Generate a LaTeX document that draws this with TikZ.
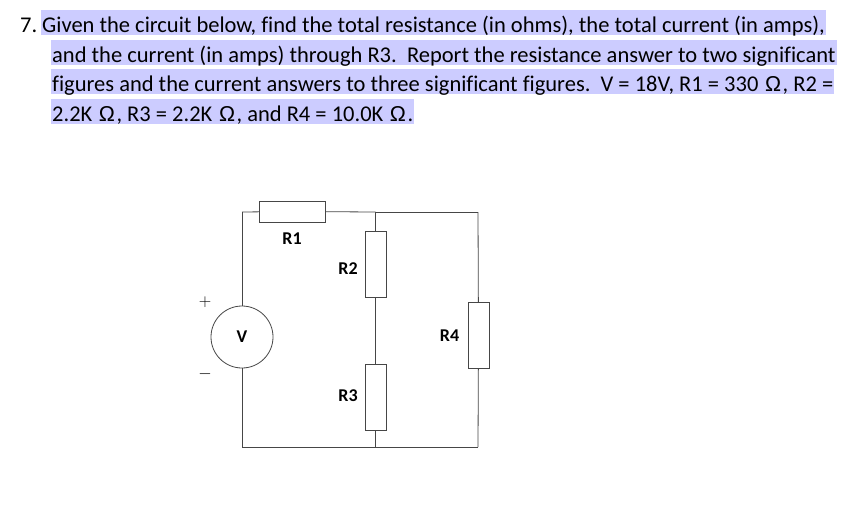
\documentclass[tikz,border=0pt]{standalone}
\usepackage{fontspec}
\setmainfont{Carlito}[Ligatures=NoCommon]
\newfontfamily\ohmfont{Liberation Sans}
\newcommand{\ohm}{\hspace{1.5pt}{\ohmfont\fontsize{21.5}{25}\selectfont Ω}\hspace{1.5pt}}
\definecolor{marked}{RGB}{204,204,255}
\definecolor{wire}{RGB}{70,70,70}
\tikzset{
  textline/.style={anchor=base west,fill=marked,inner xsep=1pt,inner ysep=0pt,text height=22pt,text depth=3pt,font=\fontsize{22.5}{25}\selectfont},
  plainline/.style={anchor=base west,inner xsep=0pt,inner ysep=0pt,font=\fontsize{22.5}{25}\selectfont},
  resistor/.style={draw=wire,fill=white,rectangle,inner sep=0pt,line width=0.8pt},
  source/.style={draw=wire,fill=white,circle,inner sep=0pt,minimum size=62pt,line width=0.8pt,font=\fontsize{18}{20}\selectfont\bfseries},
  partlabel/.style={inner sep=0pt,font=\fontsize{18}{20}\selectfont\bfseries},
  signlabel/.style={inner sep=0pt,font=\fontsize{16}{18}\selectfont}
}
\begin{document}
\begin{tikzpicture}[x=1pt,y=-1pt]
      \useasboundingbox (0,0) rectangle (865,517);
      \draw
        (20,32) node[plainline] (num){7.}
        (41,32) node[textline] (line1){Given the circuit below, find the total resistance (in ohms), the total current (in amps),}
        (51,62) node[textline] (line2){and the current (in amps) through R3.\ \ Report the resistance answer to two significant}
        (51,91) node[textline] (line3){figures and the current answers to three significant figures.\ \ V = 18V, R1 = 330 \ohm, R2 =}
        (51,121) node[textline] (line4){2.2K \ohm, R3 = 2.2K \ohm, and R4 = 10.0K \ohm.};
      \draw
        (242,212) coordinate (tl)
        (375.5,212) coordinate (tm)
        (478,212) coordinate (tr)
        (242,447) coordinate (bl)
        (375.5,447) coordinate (bm)
        (478,447) coordinate (br)
        (242,337) node[source] (V){V}
        (292.5,211.5) node[resistor,minimum width=66pt,minimum height=21pt] (R1){}
        (375.5,264) node[resistor,minimum width=21pt,minimum height=66pt] (R2){}
        (375.5,397) node[resistor,minimum width=21pt,minimum height=66pt] (R3){}
        (478.5,335.5) node[resistor,minimum width=21pt,minimum height=66pt] (R4){}
        (292,239) node[partlabel] (R1label){R1}
        (348,269) node[partlabel] (R2label){R2}
        (348,396) node[partlabel] (R3label){R3}
        (449.5,336) node[partlabel] (R4label){R4}
        (205,302) node[signlabel] (plus){$+$}
        (205,374) node[signlabel] (minus){$-$};
      \begin{scope}[-,draw=wire,line width=0.8pt]
        \draw (V) to (tl);
        \draw (tl) to (R1);
        \draw (R1) to (tm);
        \draw (tm) to (tr);
        \draw (tm) to (R2);
        \draw (R2) to (R3);
        \draw (R3) to (bm);
        \draw (tr) to (R4);
        \draw (R4) to (br);
        \draw (V) to (bl);
        \draw (bl) to (bm);
        \draw (bm) to (br);
      \end{scope}
    \end{tikzpicture}
\end{document}
